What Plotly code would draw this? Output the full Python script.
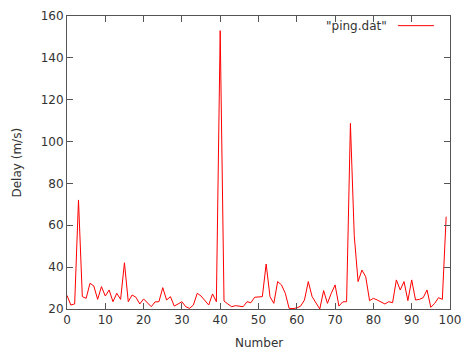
import plotly.graph_objects as go

numbers = list(range(100))
delay = [26.5, 21.9, 22.4, 72.1, 25.9, 25.1, 32.3, 31.0, 24.6, 30.7,
         26.2, 29.1, 23.5, 27.5, 24.6, 42.1, 23.5, 26.7, 25.6, 22.4,
         24.8, 22.7, 21.1, 23.4, 23.5, 30.2, 24.3, 25.9, 21.4, 22.4,
         23.5, 21.1, 20.3, 21.9, 27.5, 26.2, 24.3, 21.9, 27.2, 23.5,
         153.0, 23.8, 22.4, 21.1, 21.6, 21.4, 21.1, 23.5, 23.0, 25.6,
         25.6, 25.9, 41.5, 25.9, 22.7, 33.1, 31.5, 27.5, 20.3, 20.2,
         20.5, 21.4, 24.3, 33.1, 25.9, 22.7, 20.0, 28.8, 22.7, 27.5,
         31.5, 21.4, 23.4, 23.5, 108.7, 55.0, 33.1, 38.6, 35.4, 24.0,
         25.1, 24.3, 23.5, 22.4, 23.5, 23.0, 33.9, 29.1, 33.1, 24.0,
         33.9, 24.3, 24.6, 25.4, 29.1, 20.8, 22.7, 25.4, 24.6, 64.1]

series_name = '"ping.dat"'
x_title = "Number"
y_title = "Delay (m/s)"

FONT = dict(family="DejaVu Sans", size=12, color="#333333")

fig = go.Figure()
fig.add_trace(go.Scatter(x=numbers, y=delay, mode="lines",
                         line=dict(color="#ff0000", width=1),
                         name=series_name, showlegend=False))

axis_common = dict(showgrid=False, zeroline=False, showline=True, mirror="ticks",
                   linecolor="#555555", linewidth=1, ticks="inside", ticklen=6,
                   tickcolor="#555555", tickfont=FONT, automargin=False)

fig.update_xaxes(range=[0, 100], dtick=10, tick0=0, **axis_common)
fig.update_yaxes(range=[20, 160], dtick=20, tick0=20, **axis_common)

# axis titles
fig.add_annotation(x=0.5, y=0, xref="paper", yref="paper", text=x_title, showarrow=False,
                   xanchor="center", yanchor="middle", yshift=-34, font=FONT)
fig.add_annotation(x=0, y=0.5, xref="paper", yref="paper", text=y_title, showarrow=False,
                   xanchor="center", yanchor="middle", xshift=-51, textangle=-90, font=FONT)

# gnuplot-style key: text then line sample
fig.add_annotation(x=0.840, y=0.967, xref="paper", yref="paper", text=series_name,
                   showarrow=False, xanchor="right", yanchor="middle", font=FONT)
fig.add_shape(type="line", xref="paper", yref="paper", x0=0.864, x1=0.958, y0=0.967, y1=0.967,
              line=dict(color="#ff0000", width=1))

# page body has an 8px default margin; the figure is sized to fill the rest of the window
fig.update_layout(width=466, height=347, margin=dict(l=59, r=24, t=8, b=46),
                  plot_bgcolor="white", paper_bgcolor="white")

fig.write_html("out.html")
